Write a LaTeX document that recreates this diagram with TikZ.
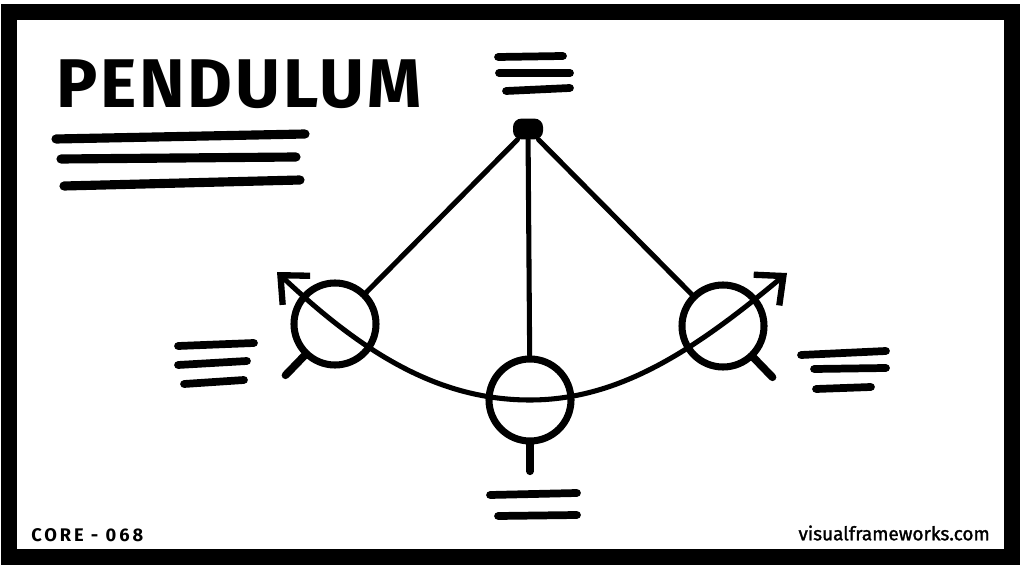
\documentclass[tikz,border=0pt]{standalone}
\usepackage{fontspec}
\setmainfont{Fira Sans}
\newfontfamily\markerfont[LetterSpace=4]{Fira Sans}
\newfontfamily\stampfont[LetterSpace=16]{Fira Sans}
\usetikzlibrary{positioning,calc,arrows.meta}

\begin{document}
\begin{tikzpicture}[x=0.025cm,y=-0.025cm,
bob/.style={circle, draw=black, line width=5pt, minimum size=2.05cm, inner sep=0pt},
pivotnode/.style={rectangle, rounded corners=6pt, fill=black, minimum width=0.75cm, minimum height=0.52cm, inner sep=0pt},
string/.style={line width=3.6pt, line cap=round},
swing/.style={line width=3.6pt, line cap=round, {Straight Barb[length=5.5mm,width=10mm,line width=4.5pt]}-{Straight Barb[length=5.5mm,width=10mm,line width=4.5pt]}},
tick/.style={line width=5.5pt, line cap=round},
scribble/.style={line width=5.5pt, line cap=round},
]
\useasboundingbox (0,0) rectangle (1024,569);

%Frame
\draw[line width=11pt] (9,12) rectangle (1012,557);

%Nodes
\node[anchor=west, inner sep=0pt, font=\markerfont\bfseries\fontsize{49}{49}\selectfont] (title) at (56,84) {PENDULUM};
\node[pivotnode]  (pivot) at (528,129) {};
\node[bob]        (bl)    at (335,324) {};
\node[bob]        (bb)    at (530,400) {};
\node[bob]        (br)    at (723,326) {};
\coordinate (tipL) at (277,272);
\coordinate (tipR) at (787,273);
\node[anchor=west, inner sep=0pt, font=\stampfont\bfseries\fontsize{13}{13}\selectfont] (code) at (31,535) {CORE - 068};
\node[anchor=east, inner sep=0pt, font=\fontsize{13.5}{13.5}\selectfont\addfontfeature{FakeBold=1.5}] (site) at (990,533) {visualframeworks.com};

%Lines
\draw[string] (pivot) -- (bl);
\draw[string] (pivot) -- (bb);
\draw[string] (pivot) -- (br);
\draw[swing] (tipL) .. controls (366,356) and (441,400) .. (bb.center) .. controls (621,400) and (697,348) .. (tipR);
\draw[tick] (bl.226) -- ($(bl)!1.6!(bl.226)$);
\draw[tick] (bb.south) -- ($(bb)!1.6!(bb.south)$);
\draw[tick] (br.314) -- ($(br)!1.6!(br.314)$);

%Scribbles
\draw[scribble, line width=6.5pt] (56,139) -- (305,134);
\draw[scribble, line width=6.5pt] (61,159) -- (296,157);
\draw[scribble, line width=6.5pt] (64,186) -- (300,180);
\draw[scribble] (498,57) -- (563,56);
\draw[scribble] (499,73) -- (570,73);
\draw[scribble] (506,91) -- (570,88);
\draw[scribble] (178,346) -- (254,343);
\draw[scribble] (178,365) -- (247,361);
\draw[scribble] (184,384) -- (244,380);
\draw[scribble] (801,355) -- (886,351);
\draw[scribble] (814,369) -- (886,368);
\draw[scribble] (816,389) -- (871,387);
\draw[scribble] (490,495) -- (577,493);
\draw[scribble] (498,516) -- (577,515);
\end{tikzpicture}
\end{document}
